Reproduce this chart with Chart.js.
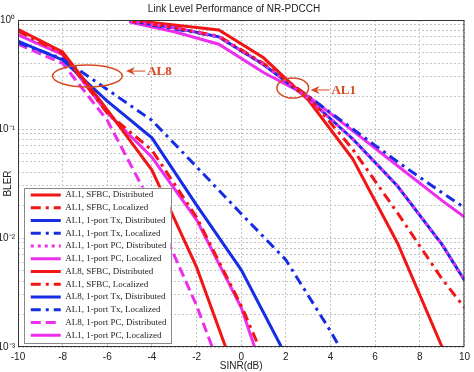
<!DOCTYPE html>
<html>
<head>
<meta charset="utf-8">
<title>Link Level Performance of NR-PDCCH</title>
<script src="https://cdn.jsdelivr.net/npm/chart.js@4.4.0/dist/chart.umd.min.js"></script>
<style>
  body { margin: 0; background: #fff; }
</style>
</head>
<body>
<canvas id="bler_chart" width="474" height="372"></canvas>
<script>
// axis ticks
const xTickValues = [-10, -8, -6, -4, -2, 0, 2, 4, 6, 8, 10];
const yMajorTicks = [0.001, 0.01, 0.1, 1];
const yTickLabels = ['10\u207B\u00B3', '10\u207B\u00B2', '10\u207B\u00B9', '10\u2070'];
const yMinorSteps = [2, 3, 4, 5, 6, 7, 8, 9];

// AL1 curves (right group)
const al1X = [-5, -3, -1, 1, 3, 5, 7, 9, 10];
const al1SfbcDistX = [-5, -3, -1, 1, 3, 5, 7, 9];
const al1SfbcDistY = [1.0, 0.90, 0.81, 0.45, 0.185, 0.053, 0.009, 0.001];
const al1SfbcLocY = [0.98, 0.85, 0.71, 0.40, 0.20, 0.065, 0.017, 0.0042, 0.0023];
const al1TxDistY = [0.98, 0.85, 0.70, 0.39, 0.19, 0.081, 0.030, 0.0087, 0.0041];
const al1TxLocY = [0.98, 0.83, 0.70, 0.39, 0.20, 0.10, 0.050, 0.026, 0.019];
const al1PcDistY = [0.98, 0.85, 0.70, 0.39, 0.19, 0.081, 0.030, 0.0087, 0.0041];
const al1PcLocY = [0.96, 0.78, 0.60, 0.33, 0.20, 0.096, 0.046, 0.022, 0.0156];

// AL8 curves (left group)
const al8SfbcDistX = [-10, -8, -6, -4, -2, -0.7];
const al8SfbcDistY = [0.82, 0.51, 0.15, 0.042, 0.0054, 0.001];
const al8SfbcLocX = [-10, -8, -6, -4, -2, 0, 0.8];
const al8SfbcLocY = [0.79, 0.49, 0.14, 0.064, 0.0155, 0.0024, 0.001];
const al8TxDistX = [-10, -8, -6, -4, -2, 0, 1.8];
const al8TxDistY = [0.64, 0.43, 0.18, 0.083, 0.020, 0.0051, 0.001];
const al8TxLocX = [-10, -8, -6, -4, -2, 0, 2, 4, 4.4];
const al8TxLocY = [0.62, 0.44, 0.23, 0.12, 0.045, 0.0167, 0.0063, 0.0014, 0.001];
const al8PcDistX = [-10, -8, -6, -4, -2, -1.3];
const al8PcDistY = [0.60, 0.40, 0.12, 0.020, 0.0024, 0.001];
const al8PcLocX = [-10, -8, -6, -4, -2, 0, 0.6];
const al8PcLocY = [0.73, 0.48, 0.14, 0.055, 0.0147, 0.0023, 0.001];

const legendLabels = [
  'AL1, SFBC, Distributed', 'AL1, SFBC, Localized',
  'AL1, 1-port Tx, Distributed', 'AL1, 1-port Tx, Localized',
  'AL1, 1-port PC, Distributed', 'AL1, 1-port PC, Localized',
  'AL8, SFBC, Distributed', 'AL1, SFBC, Localized',
  'AL8, 1-port Tx, Distributed', 'AL1, 1-port Tx, Localized',
  'AL8, 1-port PC, Distributed', 'AL1, 1-port PC, Localized'
];

// "AL8" / "AL1" call-outs, in data units
const noteLabels = ['AL8', 'AL1'];
const noteRingX = [[-8.45, -5.33], [1.6, 3.02]];
const noteRingY = [[0.243, 0.386], [0.192, 0.294]];
const noteArrowX = [[-5.16, -4.3], [3.11, 3.95]];
const noteArrowY = [0.34, 0.228];

const RED = 'rgb(240,22,22)';
const BLUE = 'rgb(22,45,228)';
const MAGENTA = 'rgb(238,45,238)';
const NOTE = 'rgb(214,72,32)';

const SOLID = [];
const DASH_DOT = [10, 5, 3, 5];
const DASHED = [10, 5];
const DOTTED = [3, 4];

function series(i, xs, ys, color, dash, order) {
  return {
    label: legendLabels[i],
    data: xs.map((x, k) => ({x: x, y: ys[k]})),
    borderColor: color,
    backgroundColor: color,
    borderWidth: 3,
    borderDash: dash,
    borderCapStyle: 'butt',
    pointRadius: 0,
    tension: 0,
    fill: false,
    order: order || 0
  };
}

const datasets = [
  series(0, al1SfbcDistX, al1SfbcDistY, RED, SOLID),
  series(1, al1X, al1SfbcLocY, RED, DASH_DOT),
  series(2, al1X, al1TxDistY, BLUE, SOLID),
  series(3, al1X, al1TxLocY, BLUE, DASH_DOT),
  series(4, al1X, al1PcDistY, MAGENTA, DOTTED, -1),
  series(5, al1X, al1PcLocY, MAGENTA, SOLID, 1),
  series(6, al8SfbcDistX, al8SfbcDistY, RED, SOLID),
  series(7, al8SfbcLocX, al8SfbcLocY, RED, DASH_DOT),
  series(8, al8TxDistX, al8TxDistY, BLUE, SOLID),
  series(9, al8TxLocX, al8TxLocY, BLUE, DASH_DOT),
  series(10, al8PcDistX, al8PcDistY, MAGENTA, DASHED),
  series(11, al8PcLocX, al8PcLocY, MAGENTA, SOLID)
];

function drawNote(ctx, xs, ys, i) {
  const px0 = xs.getPixelForValue(noteRingX[i][0]);
  const px1 = xs.getPixelForValue(noteRingX[i][1]);
  const py0 = ys.getPixelForValue(noteRingY[i][0]);
  const py1 = ys.getPixelForValue(noteRingY[i][1]);
  ctx.strokeStyle = NOTE;
  ctx.fillStyle = NOTE;
  ctx.lineWidth = 1.5;
  ctx.setLineDash([]);
  ctx.beginPath();
  ctx.ellipse((px0 + px1) / 2, (py0 + py1) / 2, Math.abs(px1 - px0) / 2, Math.abs(py1 - py0) / 2, 0, 0, Math.PI * 2);
  ctx.stroke();

  const tip = xs.getPixelForValue(noteArrowX[i][0]);
  const tail = xs.getPixelForValue(noteArrowX[i][1]);
  const ay = ys.getPixelForValue(noteArrowY[i]);
  ctx.beginPath();
  ctx.moveTo(tip, ay);
  ctx.lineTo(tip + 9, ay - 4);
  ctx.lineTo(tip + 6, ay);
  ctx.lineTo(tip + 9, ay + 4);
  ctx.closePath();
  ctx.fill();
  ctx.lineWidth = 1;
  ctx.beginPath();
  ctx.moveTo(tip + 6, ay);
  ctx.lineTo(tail, ay);
  ctx.stroke();

  ctx.font = 'bold 13px "Liberation Serif"';
  ctx.textAlign = 'left';
  ctx.textBaseline = 'middle';
  ctx.fillText(noteLabels[i], tail + 2, ay + 1);
}

const overlay = {
  id: 'overlay',
  afterLayout(chart) {
    const lg = chart.legend;
    const a = chart.chartArea;
    lg.left = a.left + 9;
    lg.right = lg.left + lg.width;
    lg.top = a.top;
    lg.bottom = a.bottom - 3.5;
  },
  afterDatasetsDraw(chart) {
    const {ctx, chartArea: a, scales} = chart;
    ctx.save();
    ctx.strokeStyle = '#333';
    ctx.lineWidth = 1;
    ctx.setLineDash([]);
    ctx.strokeRect(a.left + 0.5, a.top + 0.5, a.width - 1, a.height - 1);

    drawNote(ctx, scales.x, scales.y, 0);
    drawNote(ctx, scales.x, scales.y, 1);

    // legend frame, drawn over the curves
    const lg = chart.legend;
    const pad = lg.options.labels.padding;
    const colH = lg.columnSizes[0].height;
    const bx = lg.left + pad - 7;
    const by = lg.bottom - colH - 3;
    const bw = lg.columnSizes[0].width + 11;
    const bh = colH + 1.5;
    ctx.fillStyle = '#fff';
    ctx.fillRect(bx, by, bw, bh);
    ctx.strokeStyle = '#888';
    ctx.strokeRect(Math.round(bx) + 0.5, Math.round(by) + 0.5, Math.round(bw), Math.round(bh));
    ctx.restore();
    lg.draw();
  }
};

const sansFont = {family: '"Liberation Sans", Arial, sans-serif', size: 10};

new Chart('bler_chart', {
  type: 'line',
  data: {datasets: datasets},
  plugins: [overlay],
  options: {
    responsive: false,
    animation: false,
    layout: {padding: {left: 0, right: 6, top: 0, bottom: 0}},
    plugins: {
      title: {
        display: true,
        text: 'Link Level Performance of NR-PDCCH',
        color: '#222',
        font: {family: '"Liberation Sans", Arial, sans-serif', size: 10, weight: 'normal'},
        padding: {top: 3, bottom: 5}
      },
      legend: {
        position: 'chartArea',
        align: 'end',
        labels: {
          usePointStyle: true,
          pointStyle: 'line',
          pointStyleWidth: 30,
          padding: 3.75,
          color: '#222',
          font: {family: '"Liberation Serif", "Times New Roman", serif', size: 9},
          sort: (a, b) => a.datasetIndex - b.datasetIndex,
          generateLabels: (chart) => {
            const items = Chart.defaults.plugins.legend.labels.generateLabels(chart);
            items.forEach(item => {
              const ds = chart.data.datasets[item.datasetIndex];
              item.lineDash = ds.borderDash;
              item.lineWidth = ds.borderWidth;
              item.strokeStyle = ds.borderColor;
              item.lineCap = 'butt';
            });
            return items;
          }
        }
      },
      tooltip: {enabled: false}
    },
    scales: {
      x: {
        type: 'linear',
        min: -10,
        max: 10,
        afterBuildTicks: (axis) => { axis.ticks = xTickValues.map(v => ({value: v})); },
        afterFit: (axis) => { axis.height = 25; },
        ticks: {autoSkip: false, color: '#222', font: sansFont, padding: 4, maxRotation: 0},
        grid: {color: '#c4c4c4', lineWidth: 1, drawTicks: false},
        border: {display: false, dash: [2, 2]},
        title: {display: true, text: 'SINR(dB)', color: '#222', font: sansFont, padding: {top: 0, bottom: 0}}
      },
      y: {
        type: 'logarithmic',
        min: 0.001,
        max: 1,
        afterBuildTicks: (axis) => {
          const vals = [];
          yMajorTicks.forEach((v, i) => {
            vals.push(v);
            if (i < yMajorTicks.length - 1) {
              yMinorSteps.forEach(m => vals.push(+(m * v).toPrecision(3)));
            }
          });
          axis.ticks = vals.map(v => ({value: v}));
        },
        afterFit: (axis) => { axis.width = 18; },
        ticks: {
          autoSkip: false,
          color: '#222',
          font: sansFont,
          padding: 3,
          callback: (v) => {
            const k = yMajorTicks.indexOf(v);
            return k >= 0 ? yTickLabels[k] : '';
          }
        },
        grid: {color: '#c4c4c4', lineWidth: 1, drawTicks: false},
        border: {display: false, dash: [2, 2]},
        title: {display: true, text: 'BLER', color: '#222', font: sansFont, padding: {top: 2, bottom: 0}}
      }
    }
  }
});
</script>
</body>
</html>
